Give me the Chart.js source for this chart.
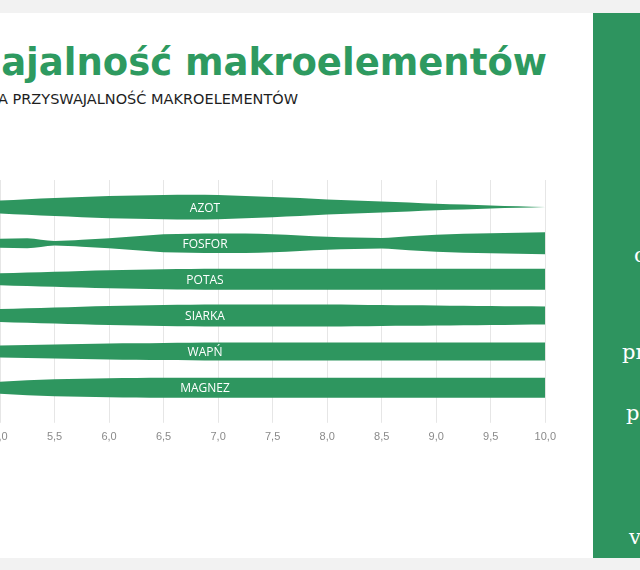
<!DOCTYPE html>
<html>
<head>
<meta charset="utf-8">
<script src="https://cdn.jsdelivr.net/npm/chart.js@4.4.1/dist/chart.umd.min.js"></script>
<style>
  html, body { margin: 0; padding: 0; }
  body { width: 640px; height: 570px; background: #f2f2f2; position: relative; overflow: hidden; }
  #slide { position: absolute; left: 0; top: 13px; width: 593px; height: 545px; background: #fff; overflow: hidden; }
  #side { position: absolute; left: 593px; top: 13px; width: 60px; height: 545px; background: #2e945f; overflow: hidden; }
  #side span { position: absolute; color: #fff; font-family: "DejaVu Serif", serif; font-size: 21px; white-space: nowrap; }
  #title { position: absolute; right: 46px; top: 28px; color: #2e9a60; font-family: "DejaVu Sans", sans-serif; font-weight: bold; font-size: 37px; white-space: nowrap; }
  #subtitle { position: absolute; right: 295px; top: 78px; color: #1e1e1e; font-family: "DejaVu Sans", sans-serif; font-size: 14.5px; white-space: nowrap; }
  #box { position: absolute; left: -30px; top: 137px; width: 594px; height: 302px; }
</style>
</head>
<body>
<div id="slide">
  <div id="title">ajalność makroelementów</div>
  <div id="subtitle">A PRZYSWAJALNOŚĆ MAKROELEMENTÓW</div>
  <div id="box"><canvas id="myChart"></canvas></div>
</div>
<div id="side">
  <span style="left:41px; top:230px;">c</span>
  <span style="left:29px; top:327px;">pr</span>
  <span style="left:33px; top:388px;">p</span>
  <span style="left:36px; top:512px;">v</span>
</div>
<script>
// pH scale and element availability (band thickness)
var ph = [5.0, 5.25, 5.5, 5.75, 6.0, 6.25, 6.5, 6.75, 7.0, 7.25, 7.5, 7.75, 8.0, 8.25, 8.5, 8.75, 9.0, 9.25, 9.5, 9.75, 10.0];
var elements = ["AZOT", "FOSFOR", "POTAS", "SIARKA", "WAPŃ", "MAGNEZ"];
var azot   = [13, 15.5, 18, 20, 22, 23, 24, 24.5, 24, 22, 20, 18, 15, 13, 11, 9, 6.5, 5, 3, 1.5, 0];
var fosfor = [9, 10, 4.5, 7, 10, 14, 18, 19, 19.5, 19.5, 18, 15.5, 13, 11.5, 10.5, 14, 17, 19, 20, 21, 22];
var potas  = [12, 13.5, 15, 16.5, 18, 19, 20, 20.5, 21, 21, 21, 21, 21, 21, 21, 21, 21, 21, 21, 21, 21];
var siarka = [13, 14.5, 16, 17.5, 19, 20, 21, 21.5, 22, 22, 22, 22, 22, 21.5, 21, 20.5, 20, 19.5, 19, 18.5, 18];
var wapn   = [12, 13, 14, 15, 16, 16.5, 17, 17.5, 18, 18, 18, 18, 18, 18, 18, 18, 18, 18, 18, 18, 18];
var magnez = [12, 15, 17, 18, 19, 19.5, 20, 20, 20, 20, 20, 20, 20, 20, 20, 20, 20, 20, 20, 20, 20];
var xTicks = [5.0, 5.5, 6.0, 6.5, 7.0, 7.5, 8.0, 8.5, 9.0, 9.5, 10.0];

var series = [azot, fosfor, potas, siarka, wapn, magnez];
var green = '#2e965f';
var unit = 1 / 36;      // availability points -> y units
var labelPh = 6.88;     // where the element names sit

var datasets = [];
series.forEach(function(vals, i) {
  var c = elements.length - i;
  var common = {
    borderColor: 'transparent',
    borderWidth: 0,
    backgroundColor: green,
    pointRadius: 0,
    pointHoverRadius: 0,
    cubicInterpolationMode: 'monotone'
  };
  datasets.push(Object.assign({
    label: elements[i] + ' top',
    data: ph.map(function(p, j) { return { x: p, y: c + vals[j] * unit / 2 }; }),
    fill: false
  }, common));
  datasets.push(Object.assign({
    label: elements[i],
    data: ph.map(function(p, j) { return { x: p, y: c - vals[j] * unit / 2 }; }),
    fill: '-1'
  }, common));
});

var names = {
  id: 'names',
  afterDatasetsDraw: function(chart) {
    var ctx = chart.ctx;
    var xs = chart.scales.x, ys = chart.scales.y;
    ctx.save();
    ctx.fillStyle = '#ffffff';
    ctx.font = '12px "Open Sans", sans-serif';
    ctx.textAlign = 'center';
    ctx.textBaseline = 'middle';
    elements.forEach(function(n, i) {
      ctx.fillText(n, xs.getPixelForValue(labelPh), ys.getPixelForValue(elements.length - i) + 1);
    });
    ctx.restore();
  }
};

var ctx = document.getElementById('myChart').getContext('2d');
var chart = new Chart(ctx, {
  type: 'line',
  data: { datasets: datasets },
  plugins: [names],
  options: {
    responsive: true,
    maintainAspectRatio: false,
    animation: false,
    layout: { padding: { left: 30, right: 15, top: 30, bottom: 0 } },
    plugins: { legend: { display: false }, tooltip: { enabled: false } },
    scales: {
      x: {
        type: 'linear',
        min: 5.0,
        max: 10.0,
        afterBuildTicks: function(s) { s.ticks = xTicks.map(function(v) { return { value: v }; }); },
        ticks: {
          color: '#8a8a8a',
          padding: 8,
          maxRotation: 0,
          font: { family: '"Liberation Sans", Arial, sans-serif', size: 11 },
          callback: function(v) { return v.toFixed(1).replace('.', ','); }
        },
        grid: { color: '#e6e6e6', tickLength: 8 },
        border: { display: false }
      },
      y: {
        display: false,
        min: 0.25,
        max: 6.75
      }
    }
  }
});
</script>
</body>
</html>
